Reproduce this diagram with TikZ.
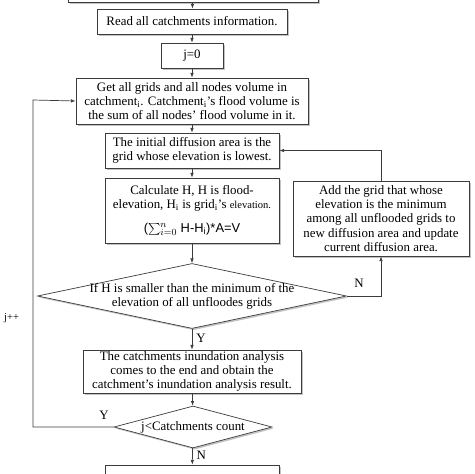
\documentclass[tikz,border=0pt]{standalone}
\usepackage{fontspec}
\setmainfont{Liberation Serif}
\newfontfamily\formulafont{Liberation Sans}
\usetikzlibrary{arrows.meta,positioning,shapes.geometric,shadows}
\definecolor{lineclr}{RGB}{60,60,60}
\definecolor{shadeclr}{RGB}{170,170,170}
\newcommand{\boxfont}{\fontsize{11}{12.2}\selectfont}

\begin{document}
\begin{tikzpicture}[
      x=0.03cm, y=-0.03cm,
      box/.style={draw=lineclr,line width=0.6pt,fill=white,align=center,inner sep=1pt,
        drop shadow={shadow xshift=1.4pt,shadow yshift=-1.4pt,fill=shadeclr,opacity=0.7}},
      decision/.style={draw=lineclr,line width=0.6pt,shape=diamond,inner sep=0pt,fill=white,
        drop shadow={shadow xshift=1.4pt,shadow yshift=-1.4pt,fill=shadeclr,opacity=0.7}},
      arrow/.style={-{Latex[length=4pt,width=3pt]},line width=0.6pt,draw=lineclr},
      lbl/.style={font=\boxfont},
      every node/.style={font=\boxfont}
    ]
      \useasboundingbox (0,0) rectangle (474,474);
      \node[box,minimum width=7.5cm,minimum height=0.9cm] (start) at (193,-13) {};
      \node[box,minimum width=5.7cm,minimum height=0.75cm] (read) at (192,21.5) {Read all catchments information.};
      \node[box,minimum width=1.86cm,minimum height=0.75cm] (jzero) at (192,55.5) {j=0};
      \node[box,minimum width=6.96cm,minimum height=1.38cm] (grids) at (192,101)
        {Get all grids and all nodes volume in\\catchment\textsubscript{i}. Catchment\textsubscript{i}'s flood volume is\\the sum of all nodes' flood volume in it.};
      \node[box,minimum width=5.22cm,minimum height=1.05cm] (init) at (192,150.5)
        {The initial diffusion area is the\\grid whose elevation is lowest.};
      \node[box,minimum width=5.22cm,minimum height=1.95cm] (calc) at (192,210.5)
        {Calculate H, H is flood-\\elevation, H\textsubscript{i} is grid\textsubscript{i}'s {\fontsize{9}{12}\selectfont elevation.}\\[8pt]
         {\formulafont($\sum_{i=0}^{n}$ H-H\textsubscript{i})*A=V}};
      \node[box,minimum width=5.28cm,minimum height=2.25cm] (add) at (381,218.5)
        {Add the grid that whose\\elevation is the minimum\\among all unflooded grids to\\new diffusion area and update\\current diffusion area.};
      \node[decision,minimum width=9.27cm,minimum height=1.95cm,
        label={[align=center]center:If H is smaller than the minimum of the\\elevation of all unfloodes grids}] (cmp) at (192,296) {};
      \node[box,minimum width=6.54cm,minimum height=1.29cm] (result) at (192,371.5)
        {The catchments inundation analysis\\comes to the end and obtain the\\catchment's inundation analysis result.};
      \node[decision,minimum width=4.74cm,minimum height=1.26cm,
        label={center:j<Catchments count}] (count) at (193,427) {};
      \node[box,minimum width=5.22cm,minimum height=0.9cm] (finish) at (192,480) {};
      % main flow
      \draw[arrow] (start) -- (read);
      \draw[arrow] (read) -- (jzero);
      \draw[arrow] (jzero) -- (grids);
      \draw[arrow] (grids) -- (init);
      \draw[arrow] (init) -- (calc);
      \draw[arrow] (calc) -- (cmp);
      \draw[arrow] (cmp) -- node[lbl,right,pos=0.45] {Y} (result);
      \draw[arrow] (result) -- (count);
      \draw[arrow] (count) -- node[lbl,right,pos=0.4] {N} (finish);
      % inner loop
      \draw[arrow] (cmp.east) -| node[lbl,above,pos=0.18,yshift=4pt] {N} (add.south);
      \draw[arrow] (add.north) |- (init.east);
      % outer loop
      \coordinate (bend) at (33,100);
      \draw[arrow] (count.west) -| node[lbl,above,pos=0.06,yshift=3pt] {Y} (bend) -- (grids.west);
      \node[anchor=west,font=\fontsize{9}{10}\selectfont] (jinc) at (0,318) {j++};
    \end{tikzpicture}
\end{document}
